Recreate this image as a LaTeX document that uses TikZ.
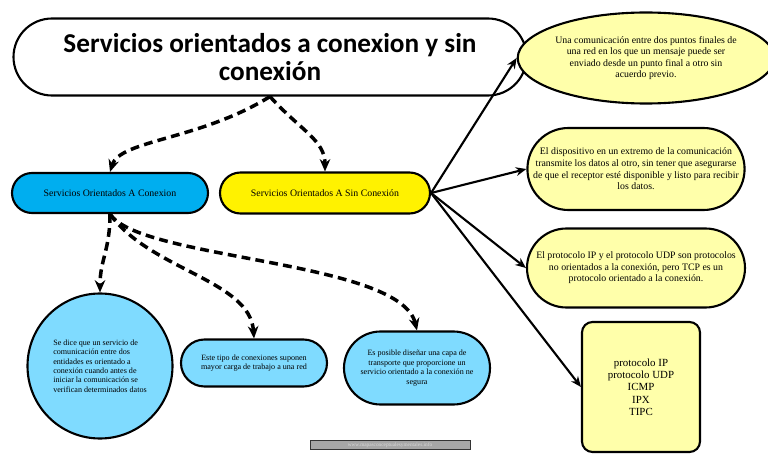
\documentclass[tikz,border=0pt]{standalone}
\usepackage{fontspec}
\setmainfont{Liberation Serif}
\newfontfamily\titlefont{Carlito}
\usetikzlibrary{arrows.meta,shapes.misc,shapes.geometric}
\definecolor{cblue}{HTML}{00AEEF}
\definecolor{lblue}{HTML}{7FDBFF}
\definecolor{pyel}{HTML}{FFFFAA}
\tikzset{
  box/.style={draw=black,line width=1.2pt,rounded rectangle,inner sep=0pt,align=center},
  dasharrow/.style={-{Stealth[length=7pt,width=6pt]},dashed,line width=2pt,dash pattern=on 5pt off 3pt},
  solidarrow/.style={-{Stealth[length=6pt,width=5pt]},line width=1.2pt},
  small/.style={font=\fontsize{4.6}{5.4}\selectfont},
  med/.style={font=\fontsize{5.6}{6.6}\selectfont}
}
\begin{document}
\begin{tikzpicture}[x=0.02cm,y=-0.02cm]
\useasboundingbox (0,0) rectangle (768,466);
\node[box,fill=white,minimum width=513*0.02cm,minimum height=77*0.02cm,font=\titlefont\bfseries\fontsize{15.5}{16}\selectfont] (title) at (270,57) {Servicios orientados a conexion y sin\\conexi\'on};
\node[box,fill=cblue,minimum width=196*0.02cm,minimum height=40*0.02cm,med] (co) at (110,193) {Servicios Orientados A Conexion};
\node[box,fill=yellow,minimum width=210*0.02cm,minimum height=41*0.02cm,med] (sc) at (325,193) {Servicios Orientados A Sin Conexi\'on};
\node[draw,line width=1.2pt,ellipse,fill=pyel,minimum width=197*0.02cm,minimum height=91*0.02cm,inner sep=0pt,align=center,med] (r1) at (646,58) {Una comunicaci\'on entre dos puntos finales de\\una red en los que un mensaje puede ser\\enviado desde un punto final a otro sin\\acuerdo previo.};
\node[box,fill=pyel,minimum width=217*0.02cm,minimum height=82*0.02cm,med] (r2) at (636,169) {El dispositivo en un extremo de la comunicaci\'on\\transmite los datos al otro, sin tener que asegurarse\\de que el receptor est\'e disponible y listo para recibir\\los datos.};
\node[box,fill=pyel,minimum width=218*0.02cm,minimum height=79*0.02cm,med] (r3) at (636,268) {El protocolo IP y el protocolo UDP son protocolos\\no orientados a la conexi\'on, pero TCP es un\\protocolo orientado a la conexi\'on.};
\node[draw,line width=1.2pt,rounded corners=6pt,fill=pyel,minimum width=118*0.02cm,minimum height=130*0.02cm,align=center,font=\fontsize{6.2}{7}\selectfont] (r4) at (641,387) {protocolo IP\\protocolo UDP\\ICMP\\IPX\\TIPC};
\node[draw,line width=1.2pt,circle,fill=lblue,minimum size=145*0.02cm,align=left,small] (b1) at (100,366) {Se dice que un servicio de\\comunicaci\'on entre dos\\entidades es orientado a\\conexi\'on cuando antes de\\iniciar la comunicaci\'on se\\verifican determinados datos};
\node[box,fill=lblue,minimum width=146*0.02cm,minimum height=47*0.02cm,small] (b2) at (254,363) {Este tipo de conexiones suponen\\mayor carga de trabajo a una red};
\node[box,fill=lblue,minimum width=146*0.02cm,minimum height=73*0.02cm,small] (b3) at (417,368) {Es posible dise\~nar una capa de\\transporte que proporcione un\\servicio orientado a la conexi\'on ne\\segura};
\node[fill=gray!70,draw=black!80,minimum width=160*0.02cm,minimum height=9*0.02cm,inner sep=0pt,font=\fontsize{3}{3}\selectfont,text=gray!30] (wm) at (390,445) {www.mapasconceptualesymentales.info};
\draw[dasharrow] (title.south) .. controls (200,140) and (120,140) .. (co.north);
\draw[dasharrow] (title.south) .. controls (300,130) and (325,140) .. (sc.north);
\draw[dasharrow] (co.south) .. controls (110,250) and (100,260) .. (b1.north);
\draw[dasharrow] (co.south) .. controls (150,270) and (250,280) .. (b2.north);
\draw[dasharrow] (co.south) .. controls (140,260) and (400,260) .. (b3.north);
\draw[solidarrow] (sc.east) -- (r1.west);
\draw[solidarrow] (sc.east) -- (r2.west);
\draw[solidarrow] (sc.east) -- (r3.west);
\draw[solidarrow] (sc.east) -- (r4.west);
\end{tikzpicture}
\end{document}
